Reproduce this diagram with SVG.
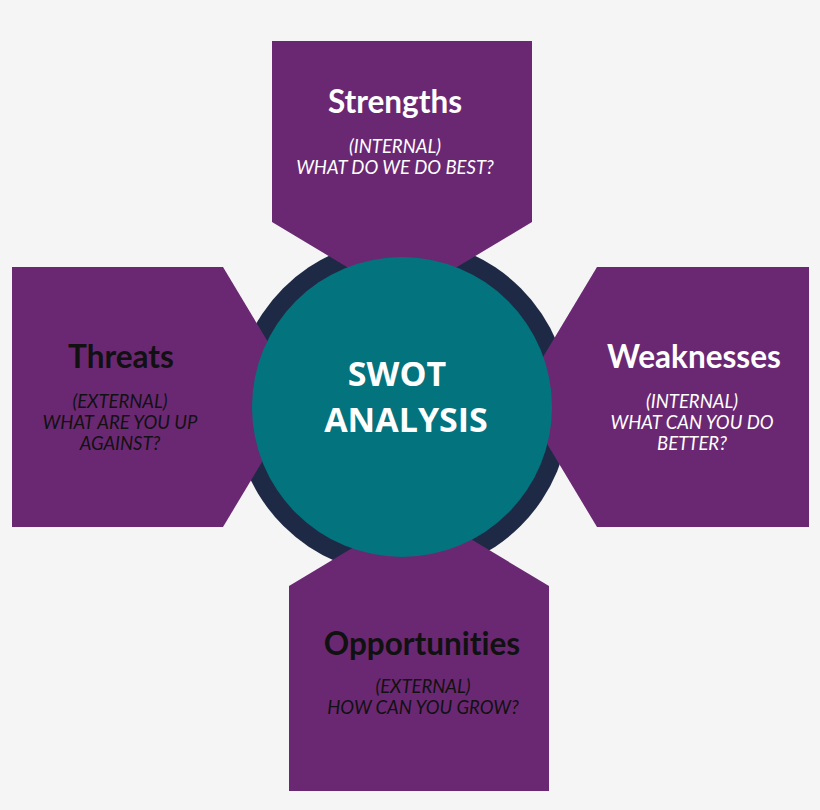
<svg xmlns="http://www.w3.org/2000/svg" width="820" height="810" viewBox="0 0 820 810">
<style>
.box{fill:#6a2873}
.title{font-family:Lato,"Liberation Sans",sans-serif;font-weight:bold;font-size:31.5px;text-anchor:middle;font-variant-ligatures:none}
.sub{font-family:Lato,"Liberation Sans",sans-serif;font-style:italic;font-size:18.5px;text-anchor:middle;font-variant-ligatures:none}
.w{fill:#ffffff}
.k{fill:#111111}
.center{font-family:"Open Sans","Liberation Sans",sans-serif;font-weight:bold;font-size:34px;fill:#ffffff;text-anchor:middle}
</style>
<rect width="820" height="810" fill="#f5f5f5"/>
<circle id="ring" cx="402" cy="407" r="168" fill="#1e2a45"/>
<g id="strengths">
<path class="box" d="M272,41 H532 V222 L402,300 L272,222 Z"/>
<text class="title w" x="395" y="113">Strengths</text>
<text class="sub w" x="395" y="153">(INTERNAL)</text>
<text class="sub w" x="395" y="174">WHAT DO WE DO BEST?</text>
</g>
<g id="threats">
<path class="box" d="M12,267 H223 L301,397 L223,527 H12 Z"/>
<text class="title k" x="121" y="368">Threats</text>
<text class="sub k" x="120" y="408">(EXTERNAL)</text>
<text class="sub k" x="120" y="429">WHAT ARE YOU UP</text>
<text class="sub k" x="120" y="450">AGAINST?</text>
</g>
<g id="weaknesses">
<path class="box" d="M809,267 H597 L519,397 L597,527 H809 Z"/>
<text class="title w" x="694" y="368">Weaknesses</text>
<text class="sub w" x="692" y="408">(INTERNAL)</text>
<text class="sub w" x="692" y="429">WHAT CAN YOU DO</text>
<text class="sub w" x="692" y="450">BETTER?</text>
</g>
<g id="opportunities">
<path class="box" d="M289,791 V586 L419,508 L549,586 V791 Z"/>
<text class="title k" x="422" y="655">Opportunities</text>
<text class="sub k" x="423" y="693">(EXTERNAL)</text>
<text class="sub k" x="423" y="714">HOW CAN YOU GROW?</text>
</g>
<g id="swot">
<circle cx="402" cy="407" r="150" fill="#03737d"/>
<text class="center" x="397" y="386">SWOT</text>
<text class="center" x="406" y="432">ANALYSIS</text>
</g>
<g id="connectors"/>
</svg>
